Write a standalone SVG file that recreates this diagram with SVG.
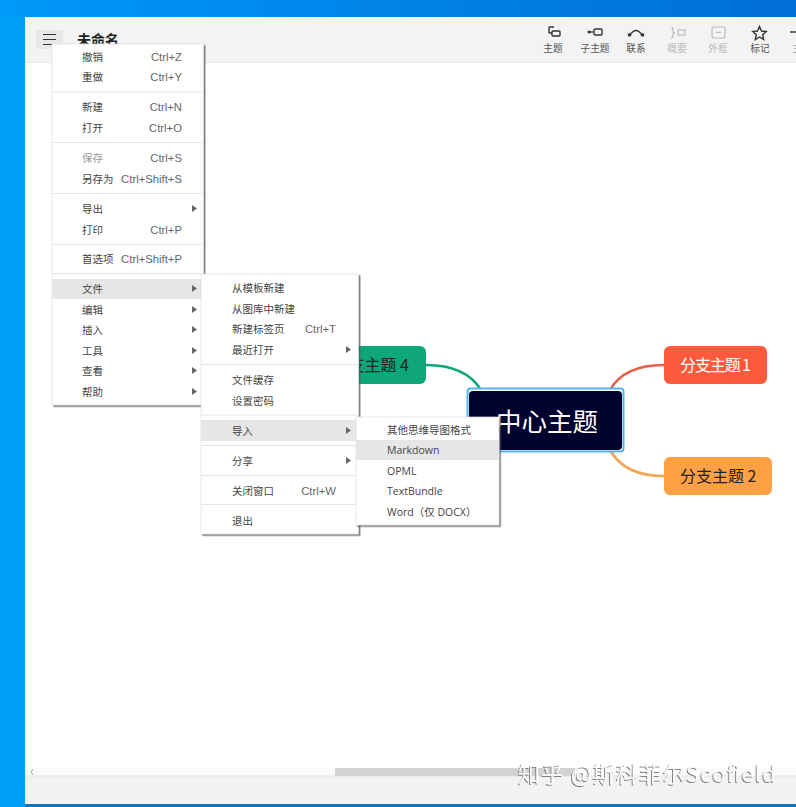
<svg xmlns="http://www.w3.org/2000/svg" width="796" height="807" viewBox="0 0 796 807">
<style>
text{font-family:"Noto Sans CJK SC","Liberation Sans",sans-serif}
.m{font-size:10.5px;fill:#444}
.s{font-size:11.3px;fill:#666;text-anchor:end;font-family:"Liberation Sans","Noto Sans CJK SC",sans-serif}
.d{fill:#999}
.t{font-size:9.700px;fill:#555;text-anchor:middle}
.td{font-size:9.700px;fill:#bbb;text-anchor:middle}
.sep{stroke:#e6e6e6;stroke-width:1}
.ar{fill:#666}
.ic{fill:none;stroke:#333;stroke-width:1.4}
.icd{fill:none;stroke:#bbb;stroke-width:1.2}
.menu{fill:#fff;stroke:#ddd;stroke-width:.7;filter:url(#sh)}
.hl{fill:#e6e6e6}
.c{fill:none;stroke-width:2.700}
.n{font-size:16px}
</style>
<defs>
<linearGradient id="bg" x1="0" y1="0" x2="1" y2="0"><stop offset="0" stop-color="#0098fa"/><stop offset="1" stop-color="#006ed4"/></linearGradient>
<filter id="sh" x="-5%" y="-5%" width="112%" height="112%"><feDropShadow dx="1.500" dy="1.500" stdDeviation="0.700" flood-color="#555" flood-opacity=".8"/></filter>
<filter id="wm" x="-5%" y="-20%" width="110%" height="140%"><feDropShadow dx="-1" dy="1" stdDeviation="0.400" flood-color="#666" flood-opacity=".9"/></filter>
</defs>
<rect width="796" height="807" fill="url(#bg)"/>
<rect x="0" y="17" width="25" height="790" fill="#00a0f8"/>
<rect x="25" y="804" width="771" height="3" fill="#0b78bd"/>
<rect x="25" y="17" width="771" height="787" fill="#fff"/>
<rect x="25" y="17" width="771" height="45" fill="#f3f3f3"/>
<line x1="25" y1="62.500" x2="796" y2="62.500" stroke="#e8e8e8"/>
<rect x="25" y="776" width="771" height="28" fill="#f2f2f2"/>
<rect x="25" y="768" width="771" height="8" fill="#fafafa"/>
<line x1="25" y1="776" x2="796" y2="776" stroke="#e4e4e4"/>
<rect x="335" y="768" width="240" height="8" fill="#d2d2d2"/>
<path d="M33 769l-2 3 2 3" fill="none" stroke="#aaa"/>
<g id="titlebar">
<rect x="36" y="30" width="27" height="19" rx="2" fill="#e8e8e8"/>
<path d="M43 34.500h13M43 39.500h13M43 44.500h9" stroke="#333" stroke-width="1.200"/>
<text x="77" y="45" font-size="14" font-weight="700" fill="#222">未命名</text>
</g>
<g id="toolbar">
<g id="tool-topic"><path class="ic" d="M549 27h5M549 27v6M549 33h3"/><rect class="ic" x="552" y="31" width="8" height="5" rx="1"/><text class="t" x="553" y="52">主题</text></g>
<g id="tool-subtopic"><circle cx="589" cy="32" r="1.500" fill="#333"/><path class="ic" d="M589 32h4"/><rect class="ic" x="594" y="29" width="8" height="6" rx="1"/><text class="t" x="595" y="52">子主题</text></g>
<g id="tool-relation"><path class="ic" d="M630 35q6-9 12 0" stroke-width="1.800"/><circle cx="629.500" cy="35" r="1.800" fill="#333"/><circle cx="642.500" cy="35" r="1.800" fill="#333"/><text class="t" x="636" y="52">联系</text></g>
<g id="tool-summary"><path class="icd" d="M671 27q2 0 2 2v2q0 2 2 2-2 0-2 2v1q0 2-2 2"/><rect class="icd" x="678" y="30" width="7" height="5"/><text class="td" x="677" y="52">概要</text></g>
<g id="tool-boundary"><rect class="icd" x="712" y="27" width="13" height="11" rx="2"/><path class="icd" d="M716 32.500h5"/><text class="td" x="718" y="52">外框</text></g>
<g id="tool-marker"><path class="ic" d="M759.500 26.500l2 4.500 4.700.5-3.500 3.200 1 4.800-4.200-2.500-4.200 2.500 1-4.800-3.500-3.200 4.700-.5z"/><text class="t" x="760" y="52">标记</text></g>
<path class="ic" d="M790 32h6"/>
<text class="td" x="797" y="52" style="fill:#999">主</text>
</g>
<g id="connectors">
<path class="c" stroke="#0fa67a" d="M426 365C450 365 470 372 481 390"/>
<path class="c" stroke="#e8604a" d="M610 390C620 372 640 365 664 365"/>
<path class="c" stroke="#f0a858" d="M610 450C620 468 640 476 664 476"/>
</g>
<g id="center"><rect x="467.500" y="388.500" width="156" height="63" rx="3" fill="#fff" stroke="#55b4e8" stroke-width="2"/><rect x="469" y="391" width="153" height="59" rx="4" fill="#02022e"/><text x="547" y="431" font-size="25.500" text-anchor="middle" fill="#fff">中心主题</text></g>
<g id="node1"><rect x="664" y="346" width="103" height="38" rx="6" fill="#ff5a3c"/><text class="n" x="680" y="371" fill="#fff" textLength="71">分支主题 1</text></g>
<g id="node2"><rect x="664" y="457" width="108" height="38" rx="6" fill="#ffa044"/><text class="n" x="680" y="482" fill="#222">分支主题 2</text></g>
<g id="node4"><rect x="340" y="346" width="86" height="38" rx="6" fill="#0fa67a"/><text class="n" x="409" y="371" fill="#222" text-anchor="end">支主题 4</text></g>
<g id="menu-main">
<rect class="menu" x="52" y="44" width="151.500" height="361"/>
<text class="m" x="82" y="61">撤销</text><text class="s" x="182" y="61">Ctrl+Z</text>
<text class="m" x="82" y="81">重做</text><text class="s" x="182" y="81">Ctrl+Y</text>
<line class="sep" x1="52" y1="92" x2="203" y2="92"/>
<text class="m" x="82" y="111">新建</text><text class="s" x="182" y="111">Ctrl+N</text>
<text class="m" x="82" y="132">打开</text><text class="s" x="182" y="132">Ctrl+O</text>
<line class="sep" x1="52" y1="142.500" x2="203" y2="142.500"/>
<text class="m d" x="82" y="162">保存</text><text class="s" x="182" y="162">Ctrl+S</text>
<text class="m" x="82" y="183">另存为</text><text class="s" x="182" y="183">Ctrl+Shift+S</text>
<line class="sep" x1="52" y1="193.500" x2="203" y2="193.500"/>
<text class="m" x="82" y="213">导出</text><path class="ar" d="M192 205l5 3.500-5 3.500z"/>
<text class="m" x="82" y="234">打印</text><text class="s" x="182" y="234">Ctrl+P</text>
<line class="sep" x1="52" y1="244.500" x2="203" y2="244.500"/>
<text class="m" x="82" y="263">首选项</text><text class="s" x="182" y="263">Ctrl+Shift+P</text>
<line class="sep" x1="52" y1="273.500" x2="203" y2="273.500"/>
<rect class="hl" x="52" y="279" width="149" height="20"/>
<text class="m" x="82" y="293">文件</text><path class="ar" d="M192 285l5 3.500-5 3.500z"/>
<text class="m" x="82" y="314">编辑</text><path class="ar" d="M192 306l5 3.500-5 3.500z"/>
<text class="m" x="82" y="334">插入</text><path class="ar" d="M192 326l5 3.500-5 3.500z"/>
<text class="m" x="82" y="355">工具</text><path class="ar" d="M192 347l5 3.500-5 3.500z"/>
<text class="m" x="82" y="375">查看</text><path class="ar" d="M192 367l5 3.500-5 3.500z"/>
<text class="m" x="82" y="396">帮助</text><path class="ar" d="M192 388l5 3.500-5 3.500z"/>
</g>
<g id="menu-file">
<rect class="menu" x="201" y="274" width="157.500" height="260"/>
<text class="m" x="232" y="292">从模板新建</text>
<text class="m" x="232" y="312.500">从图库中新建</text>
<text class="m" x="232" y="333">新建标签页</text><text class="s" x="336" y="333">Ctrl+T</text>
<text class="m" x="232" y="353.500">最近打开</text><path class="ar" d="M346 346l5 3.500-5 3.500z"/>
<line class="sep" x1="201" y1="364.500" x2="358" y2="364.500"/>
<text class="m" x="232" y="384">文件缓存</text>
<text class="m" x="232" y="404.500">设置密码</text>
<line class="sep" x1="201" y1="415" x2="358" y2="415"/>
<rect class="hl" x="201" y="420" width="155" height="21"/>
<text class="m" x="232" y="434.500">导入</text><path class="ar" d="M346 427l5 3.500-5 3.500z"/>
<line class="sep" x1="201" y1="445.500" x2="356" y2="445.500"/>
<text class="m" x="232" y="464.500">分享</text><path class="ar" d="M346 457l5 3.500-5 3.500z"/>
<line class="sep" x1="201" y1="475.500" x2="356" y2="475.500"/>
<text class="m" x="232" y="494.500">关闭窗口</text><text class="s" x="336" y="494.500">Ctrl+W</text>
<line class="sep" x1="201" y1="504.500" x2="356" y2="504.500"/>
<text class="m" x="232" y="524.500">退出</text>
</g>
<g id="menu-import">
<rect class="menu" x="356" y="417" width="143" height="108"/>
<text class="m" x="387" y="434">其他思维导图格式</text>
<rect class="hl" x="356" y="440" width="143" height="20"/>
<text class="m" x="387" y="454" style="font-family:'Open Sans',sans-serif">Markdown</text>
<text class="m" x="387" y="475" style="font-family:'Open Sans',sans-serif">OPML</text>
<text class="m" x="387" y="495" style="font-family:'Open Sans',sans-serif">TextBundle</text>
<text class="m" x="387" y="516" style="font-family:'Open Sans','Noto Sans CJK SC',sans-serif">Word（仅 DOCX）</text>
</g>
<text id="watermark" x="518" y="782" font-size="22" fill="#fff" fill-opacity=".9" textLength="258" filter="url(#wm)">知乎 @斯科菲尔Scofield</text>
</svg>
